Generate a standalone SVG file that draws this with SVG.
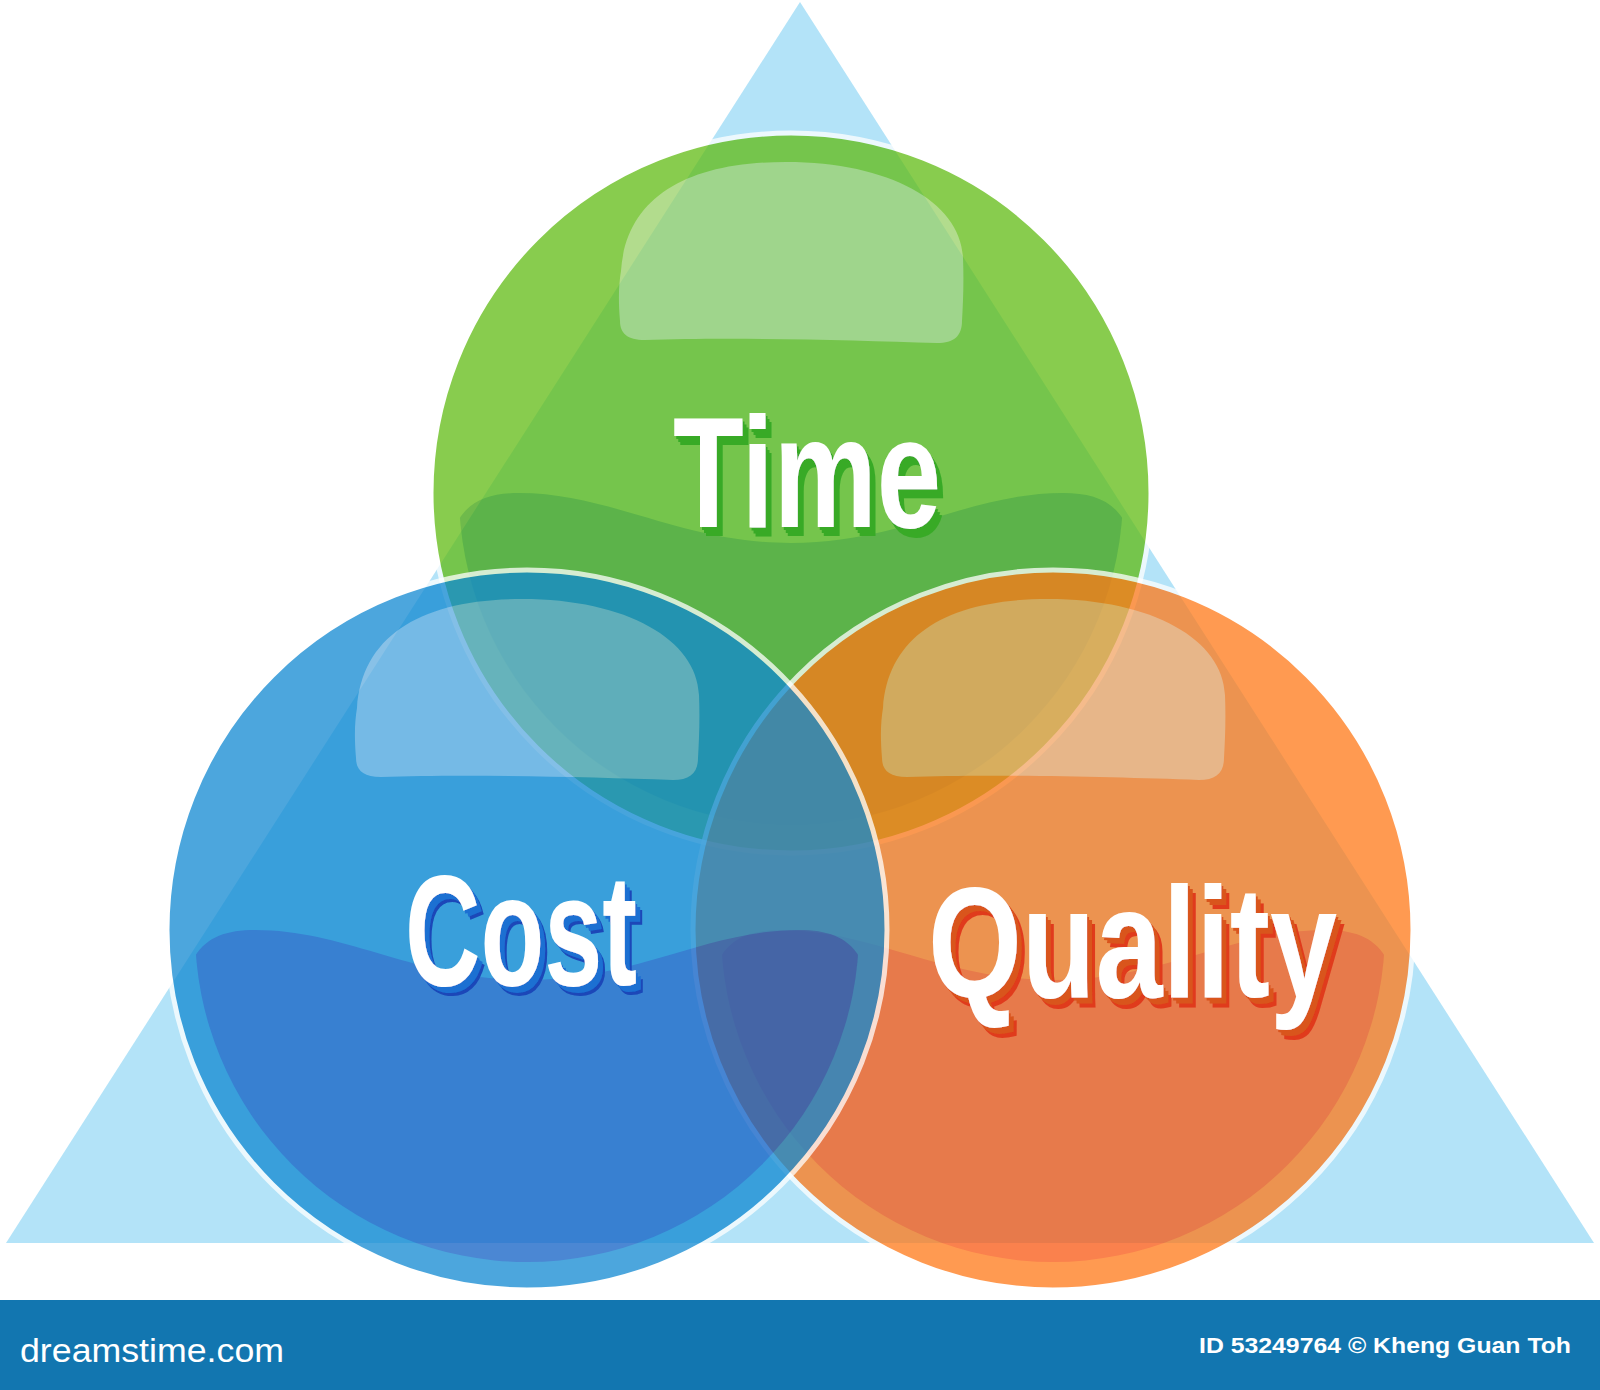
<svg xmlns="http://www.w3.org/2000/svg" width="1600" height="1390" viewBox="0 0 1600 1390">
  <defs>
    <style>
      .ring { stroke: #ffffff; stroke-width: 5; }
      .label { font-family: "Liberation Sans Narrow", "Liberation Sans", Arial, sans-serif; font-weight: bold; font-size: 158px; fill: #ffffff; }
      .foot { font-family: "Liberation Sans", Arial, sans-serif; fill: #ffffff; }
    </style>
    <clipPath id="inner">
      <circle cx="0" cy="0" r="332"/>
    </clipPath>
    <path id="hl" d="M -171,-172 C -173,-195 -172,-210 -170,-222 C -165,-295 -105,-331 -5,-331 C 100,-331 170,-290 172,-235 C 173,-210 172,-190 171,-172 C 171,-157 163,-150 146,-150 C 60,-153 -60,-156 -146,-153 C -164,-153 -171,-160 -171,-172 Z"/>
    <path id="band" d="M -345,90 C -345,20 -320,0 -272,0 C -180,0 -110,50 0,50 C 110,50 180,0 272,0 C 320,0 345,20 345,90 L 345,400 L -345,400 Z"/>
    <filter id="shGreen" x="-10%" y="-10%" width="130%" height="140%">
      <feOffset in="SourceAlpha" dx="2" dy="3" result="o1"/>
      <feOffset in="SourceAlpha" dx="4" dy="6" result="o2"/>
      <feOffset in="SourceAlpha" dx="6" dy="9" result="o3"/>
      <feMerge result="ext"><feMergeNode in="o1"/><feMergeNode in="o2"/><feMergeNode in="o3"/></feMerge>
      <feFlood flood-color="#38aa28"/>
      <feComposite in2="ext" operator="in" result="shadow"/>
      <feMerge><feMergeNode in="shadow"/><feMergeNode in="SourceGraphic"/></feMerge>
    </filter>
    <filter id="shBlue" x="-10%" y="-10%" width="130%" height="140%">
      <feOffset in="SourceAlpha" dx="7" dy="9" result="o3"/>
      <feFlood flood-color="#1a47b8"/>
      <feComposite in2="o3" operator="in" result="deep"/>
      <feOffset in="SourceAlpha" dx="2" dy="3" result="o1"/>
      <feOffset in="SourceAlpha" dx="5" dy="6" result="o2"/>
      <feMerge result="ext"><feMergeNode in="o1"/><feMergeNode in="o2"/></feMerge>
      <feFlood flood-color="#1e6fd2"/>
      <feComposite in2="ext" operator="in" result="shadow"/>
      <feMerge><feMergeNode in="deep"/><feMergeNode in="shadow"/><feMergeNode in="SourceGraphic"/></feMerge>
    </filter>
    <filter id="shOrange" x="-10%" y="-10%" width="130%" height="140%">
      <feOffset in="SourceAlpha" dx="8" dy="10" result="o3"/>
      <feFlood flood-color="#e03a1e"/>
      <feComposite in2="o3" operator="in" result="deep"/>
      <feOffset in="SourceAlpha" dx="2" dy="3" result="o1"/>
      <feOffset in="SourceAlpha" dx="5" dy="6" result="o2"/>
      <feMerge result="ext"><feMergeNode in="o1"/><feMergeNode in="o2"/></feMerge>
      <feFlood flood-color="#d9541e"/>
      <feComposite in2="ext" operator="in" result="shadow"/>
      <feMerge><feMergeNode in="deep"/><feMergeNode in="shadow"/><feMergeNode in="SourceGraphic"/></feMerge>
    </filter>
  </defs>

  <rect x="0" y="0" width="1600" height="1390" fill="#ffffff"/>

  <polygon id="triangle" points="800,2 6,1243 1594,1243" fill="#b3e3f8"/>

  <g id="node-time">
    <g transform="translate(791,493)" opacity="0.75">
      <circle cx="0" cy="0" r="360" fill="#61bc13" class="ring"/>
      <use href="#hl" fill="#99d168"/>
      <use href="#band" fill="#3fa410" clip-path="url(#inner)"/>
    </g>
    <text class="label" x="673" y="527" filter="url(#shGreen)" textLength="268" lengthAdjust="spacingAndGlyphs">Time</text>
  </g>

  <g id="node-quality">
    <g transform="translate(1053,930)" opacity="0.75">
      <circle cx="0" cy="0" r="360" fill="#ff7918" class="ring"/>
      <use href="#hl" fill="#f9a765"/>
      <use href="#band" fill="#f95712" clip-path="url(#inner)"/>
    </g>
    <text class="label" x="928" y="997" font-size="154" filter="url(#shOrange)" textLength="409" lengthAdjust="spacingAndGlyphs">Quality</text>
  </g>

  <g id="node-cost">
    <g transform="translate(527,930)" opacity="0.75">
      <circle cx="0" cy="0" r="360" fill="#1189d2" class="ring"/>
      <use href="#hl" fill="#61ade0"/>
      <use href="#band" fill="#0f5fc5" clip-path="url(#inner)"/>
    </g>
    <text class="label" x="405" y="985" filter="url(#shBlue)" textLength="232" lengthAdjust="spacingAndGlyphs">Cost</text>
  </g>

  <g id="connectors"></g>

  <g id="footer">
    <rect x="0" y="1300" width="1600" height="90" fill="#1276b0"/>
    <text class="foot" x="20" y="1362" font-size="33" textLength="264" lengthAdjust="spacingAndGlyphs">dreamstime.com</text>
    <text class="foot" x="1571" y="1353" font-size="22" font-weight="bold" text-anchor="end" textLength="372" lengthAdjust="spacingAndGlyphs">ID 53249764 © Kheng Guan Toh</text>
  </g>
</svg>
